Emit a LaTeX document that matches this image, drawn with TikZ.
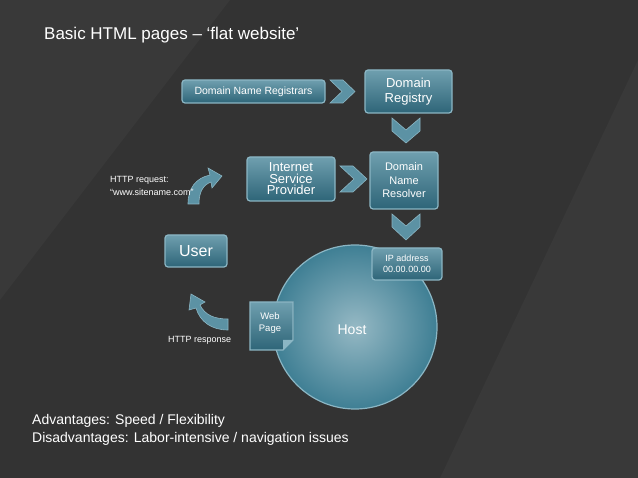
\documentclass[tikz,border=0pt]{standalone}
\usepackage{fontspec}
\setmainfont{Liberation Sans}
\definecolor{bg}{HTML}{333333}
\definecolor{stripe}{HTML}{393939}
\definecolor{tealf}{HTML}{3F7F94}
\definecolor{teald}{HTML}{2E6578}
\definecolor{tealb}{HTML}{8BB6C4}
\begin{document}
\begin{tikzpicture}[x=1pt,y=-1pt,
  box/.style={draw=tealb,line width=1.2pt,rounded corners=3pt,top color=tealf!75!white,bottom color=teald,text=white,align=center,inner sep=0pt},
  chev/.style={fill=tealf!85!white,draw=tealb,line width=0.6pt},
  lbl/.style={text=white,font=\fontsize{9}{10}\selectfont,align=left,anchor=west,inner sep=0pt}]
\useasboundingbox (0,0) rectangle (638,478);
\fill[bg] (0,0) rectangle (638,478);
\fill[stripe] (0,0) -- (230,0) -- (0,300) -- cycle;
\fill[stripe] (638,60) -- (638,478) -- (440,478) -- cycle;
\node[anchor=west,text=white,font=\fontsize{17}{20}\selectfont,inner sep=0pt] (title) at (44,35) {Basic HTML pages – ‘flat website’};
% host circle
\shade[inner color=tealf!55!white,outer color=tealf] (355,327) circle (82);
\draw[tealb,line width=1.2pt] (355,327) circle (82);
\node[text=white,font=\fontsize{14}{16}\selectfont] (host) at (352,330) {Host};
\node[box,minimum width=143pt,minimum height=23pt,font=\fontsize{10.5}{12}\selectfont] (dnr) at (253.5,91.5) {Domain Name Registrars};
\node[box,minimum width=87pt,minimum height=43pt,font=\fontsize{13}{15}\selectfont] (reg) at (408.5,91.5) {Domain\\Registry};
\node[box,minimum width=88pt,minimum height=44pt,font=\fontsize{13}{11.5}\selectfont] (isp) at (291,179) {Internet\\Service\\Provider};
\node[box,minimum width=68pt,minimum height=57pt,font=\fontsize{11}{13.5}\selectfont] (res) at (404,180.5) {Domain\\Name\\Resolver};
\node[box,minimum width=70pt,minimum height=32pt,font=\fontsize{9}{10.5}\selectfont] (ip) at (407,264) {IP address\\00.00.00.00};
\node[box,minimum width=62pt,minimum height=32pt,font=\fontsize{16}{18}\selectfont] (user) at (196,251) {User};
% web page with folded corner
\filldraw[draw=tealb,line width=1.2pt,top color=tealf!75!white,bottom color=teald] (250,302) -- (293,302) -- (293,340) -- (283,350) -- (250,350) -- cycle;
\fill[tealb] (293,340) -- (283,340) -- (283,350) -- cycle;
\node[text=white,font=\fontsize{9.5}{12}\selectfont,align=center] (web) at (270,323) {Web\\Page};
% chevrons
\fill[chev] (330,80) -- (343,80) -- (355,91.5) -- (343,103) -- (330,103) -- (342,91.5) -- cycle;
\fill[chev] (340,166) -- (353,166) -- (367,179) -- (353,192) -- (340,192) -- (354,179) -- cycle;
\fill[chev] (392,118) -- (392,131) -- (406,143) -- (420,131) -- (420,118) -- (406,130) -- cycle;
\fill[chev] (392,214) -- (392,227) -- (406,240) -- (420,227) -- (420,214) -- (406,226) -- cycle;
% curved arrows
\filldraw[chev] (188,204) .. controls (188,188) and (196,178) .. (210,175) -- (208,168) -- (222,176) -- (212,188) -- (211,182) .. controls (203,185) and (199,192) .. (199,204) -- cycle;
\filldraw[chev] (228,330) .. controls (212,330) and (200,322) .. (196,308) -- (189,310) -- (191,294) -- (205,302) -- (200,305) .. controls (205,315) and (214,319) .. (228,319) -- cycle;
\node[lbl] (req) at (110,180) {HTTP request:};
\node[lbl] (req2) at (110,192) {“www.sitename.com”};
\node[lbl] (resp) at (168,340) {HTTP response};
\node[anchor=west,text=white,font=\fontsize{14}{17}\selectfont,inner sep=0pt] (adv) at (32,421) {Advantages: Speed / Flexibility};
\node[anchor=west,text=white,font=\fontsize{14}{17}\selectfont,inner sep=0pt] (dis) at (32,439) {Disadvantages: Labor-intensive / navigation issues};
\end{tikzpicture}
\end{document}
